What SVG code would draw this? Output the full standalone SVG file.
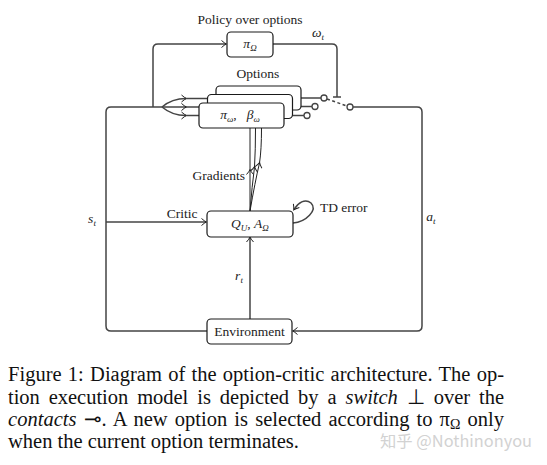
<svg xmlns="http://www.w3.org/2000/svg" width="547" height="465" viewBox="0 0 547 465">
<defs>
<style>
.box{fill:#fff;stroke:#1a1a1a;stroke-width:1.2}
.wire{fill:none;stroke:#444;stroke-width:1.5}
.thin{fill:none;stroke:#222;stroke-width:1}
.lbl{font-family:"Liberation Serif",serif;font-size:13.5px;fill:#222}
.m{font-style:italic}
.sub{font-size:9px}
.cap{font-family:"Liberation Serif",serif;font-size:20.5px;fill:#111}
.contact{fill:#fff;stroke:#444;stroke-width:1.3}
</style>
<marker id="arr" viewBox="-6 -5 8 10" markerWidth="8" markerHeight="10" refX="0" refY="0" orient="auto" markerUnits="userSpaceOnUse">
<path d="M-4.5,-3.5 Q-1.5,-0.8 0.5,0 Q-1.5,0.8 -4.5,3.5" fill="none" stroke="#222" stroke-width="1"/>
</marker>
</defs>

<g id="connectors">
<path class="wire" d="M353 107 H417 Q422 107 422 112 V326 Q422 331 417 331 H293" marker-end="url(#arr)"/>
<path class="wire" d="M207 331 H111 Q106 331 106 326 V112 Q106 107 111 107 H162"/>
<path class="wire" d="M153 107 V49 Q153 44 158 44 H226" marker-end="url(#arr)"/>
<path class="wire" d="M273 44 H332 Q337 44 337 49 V97"/>
<path class="wire" d="M333 97 H341"/>
<path class="wire" d="M106 222 H206" marker-end="url(#arr)"/>
<path class="wire" d="M250 319 V237.5" marker-end="url(#arr)"/>
<path class="wire" d="M162 107 Q172 98.5 186 98.5" marker-end="url(#arr)"/>
<path class="wire" d="M186 98.5 H216"/>
<path class="wire" d="M162 107 H186" marker-end="url(#arr)"/>
<path class="wire" d="M186 107 H208"/>
<path class="wire" d="M162 107 Q172 115.5 186 115.5" marker-end="url(#arr)"/>
<path class="wire" d="M186 115.5 H199"/>
<path class="wire" d="M301 98 H321"/>
<path class="wire" d="M292.5 106.5 H312"/>
<path class="wire" d="M284 115.5 H304"/>
<path class="wire" d="M327 99 L347 106" stroke-dasharray="3 2.5"/>
<path class="thin" d="M250 211 V170" marker-end="url(#arr)"/>
<path class="thin" d="M250 170 V128"/>
<path class="thin" d="M250 211 Q252 186 254.5 167" marker-end="url(#arr)"/>
<path class="thin" d="M254.5 167 Q255.5 150 255.5 128"/>
<path class="thin" d="M250 211 Q255 182 259.5 163" marker-end="url(#arr)"/>
<path class="thin" d="M259.5 163 Q261.5 150 261.5 128"/>
<path class="wire" d="M293 223 C306 222 318 210 311 203 C305 198 298 203 294 209.5" marker-end="url(#arr)"/>
</g>

<g id="contacts">
<circle class="contact" cx="324" cy="98" r="3"/>
<circle class="contact" cx="315" cy="106.5" r="3"/>
<circle class="contact" cx="307" cy="115.5" r="3"/>
<circle class="contact" cx="350" cy="107" r="3"/>
</g>

<g id="policy">
<text class="lbl" x="250" y="24" text-anchor="middle">Policy over options</text>
<rect class="box" x="227" y="32" width="46" height="25" rx="4"/>
<text class="lbl m" x="250" y="48" text-anchor="middle">π<tspan class="sub" dy="2.5">Ω</tspan></text>
</g>
<text class="lbl m" x="312" y="37">ω<tspan class="sub" dy="2.5">t</tspan></text>

<g id="options">
<text class="lbl" x="258" y="78" text-anchor="middle">Options</text>
<rect class="box" x="216" y="86" width="85" height="24" rx="4"/>
<rect class="box" x="207.5" y="94.5" width="85" height="24" rx="4"/>
<rect class="box" x="199" y="103" width="85" height="25" rx="4"/>
<text class="lbl m" x="240" y="119" text-anchor="middle" xml:space="preserve">π<tspan class="sub" dy="2.5">ω</tspan><tspan dy="-2.5" font-style="normal">,   </tspan>β<tspan class="sub" dy="2.5">ω</tspan></text>
</g>

<text class="lbl" x="245" y="180" text-anchor="end">Gradients</text>

<g id="critic">
<rect class="box" x="207" y="211" width="86" height="26" rx="4"/>
<text class="lbl m" x="250" y="228" text-anchor="middle">Q<tspan class="sub" dy="2.5">U</tspan><tspan dy="-2.5" font-style="normal">, </tspan>A<tspan class="sub" dy="2.5">Ω</tspan></text>
</g>
<text class="lbl" x="182" y="218" text-anchor="middle">Critic</text>
<text class="lbl" x="320" y="212">TD error</text>
<text class="lbl m" x="92" y="223" text-anchor="middle">s<tspan class="sub" dy="2.5">t</tspan></text>
<text class="lbl m" x="431" y="221" text-anchor="middle">a<tspan class="sub" dy="2.5">t</tspan></text>
<text class="lbl m" x="239" y="280" text-anchor="middle">r<tspan class="sub" dy="2.5">t</tspan></text>

<g id="environment">
<rect class="box" x="207" y="319" width="85" height="25" rx="4"/>
<text class="lbl" x="249.5" y="336" text-anchor="middle">Environment</text>
</g>

<g id="caption">
<text class="cap" x="8" y="381" word-spacing="1.1" textLength="496" lengthAdjust="spacing">Figure 1: Diagram of the option-critic architecture. The op-</text>
<text class="cap" x="8" y="403.5" word-spacing="3.9" textLength="496" lengthAdjust="spacing">tion execution model is depicted by a <tspan font-style="italic">switch</tspan> ⊥ over the</text>
<text class="cap" x="8" y="426" word-spacing="1.9" textLength="496" lengthAdjust="spacing"><tspan font-style="italic">contacts</tspan> ⊸. A new option is selected according to π<tspan font-size="14" dy="3">Ω</tspan><tspan dy="-3"> only</tspan></text>
<text class="cap" x="8" y="447.5">when the current option terminates.</text>
</g>
<text x="380" y="447" font-family="'Noto Sans CJK SC','Noto Sans',sans-serif" font-size="16" fill="#d2d2d2" textLength="152" lengthAdjust="spacingAndGlyphs">知乎 @Nothinonyou</text>
</svg>
